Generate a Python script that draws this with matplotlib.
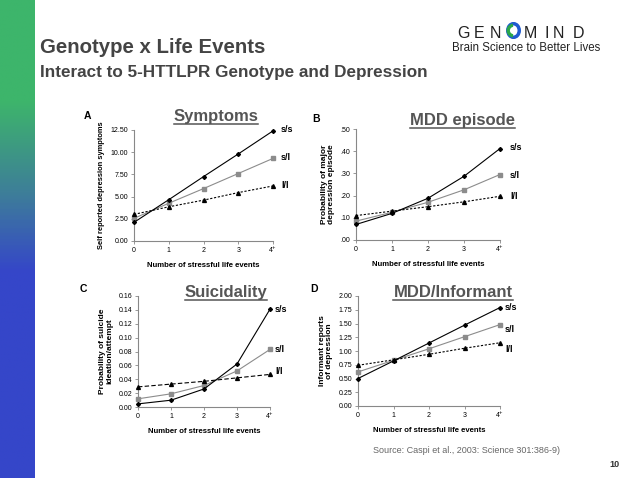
import numpy as np
import matplotlib
matplotlib.use("Agg")
import matplotlib.pyplot as plt
from matplotlib.colors import LinearSegmentedColormap
from matplotlib.patches import Ellipse, Wedge

plt.rcParams['font.family'] = ['Liberation Sans', 'DejaVu Sans']

# ---- data ----
events = [0, 1, 2, 3, 4]
xticklabels = ['0', '1', '2', '3', '4\u207a']

sym_ss = [2.1, 4.65, 7.25, 9.8, 12.4]
sym_sl = [2.55, 4.25, 5.9, 7.6, 9.3]
sym_ll = [3.0, 3.85, 4.6, 5.45, 6.2]

mdd_ss = [0.07, 0.12, 0.188, 0.287, 0.412]
mdd_sl = [0.085, 0.125, 0.17, 0.226, 0.295]
mdd_ll = [0.11, 0.13, 0.15, 0.172, 0.197]

sui_ss = [0.0045, 0.0098, 0.026, 0.062, 0.141]
sui_sl = [0.0118, 0.019, 0.031, 0.052, 0.083]
sui_ll = [0.029, 0.033, 0.037, 0.042, 0.047]

inf_ss = [0.50, 0.82, 1.145, 1.47, 1.79]
inf_sl = [0.62, 0.83, 1.04, 1.26, 1.48]
inf_ll = [0.74, 0.84, 0.94, 1.05, 1.15]

W, H = 638, 478
fig = plt.figure(figsize=(W / 100, H / 100), dpi=100)


def fx(px):
    return px / W


def fy(py):
    return 1 - py / H


# left gradient strip
strip = fig.add_axes([0, 0, fx(35), 1])
cmap = LinearSegmentedColormap.from_list('strip', [(0, '#3DB56B'), (0.21, '#3DB56B'),
                                                   (0.40, '#3E7F98'), (0.57, '#3546C9'),
                                                   (1, '#3546C9')])
strip.imshow(np.linspace(0, 1, 400).reshape(-1, 1), aspect='auto', cmap=cmap,
             extent=[0, 1, 1, 0])
strip.set_axis_off()

# header
fig.text(fx(40), fy(53), 'Genotype x Life Events', fontsize=14.7, fontweight='bold',
         color='#444444', va='baseline')
fig.text(fx(40), fy(77), 'Interact to 5-HTTLPR Genotype and Depression', fontsize=12.3,
         fontweight='bold', color='#444444', va='baseline')

# logo
for lx, ch in [(457, 'G'), (474, 'E'), (490, 'N'), (524, 'M'), (545, 'I'), (553, 'N'), (573, 'D')]:
    fig.text(fx(lx), fy(37.5), ch, fontsize=11.5, color='#222222', va='baseline')
logo = fig.add_axes([fx(505), fy(39), fx(17), 17 / H])
logo.set_xlim(-1, 1)
logo.set_ylim(-1, 1)
logo.add_patch(Ellipse((0, 0), 1.35, 1.6, fc='none', ec='#1f5bd0', lw=2.5))
logo.add_patch(Wedge((0, 0), 0.82, 95, 265, width=0.4, fc='#2aa84a', ec='none'))
logo.set_axis_off()
fig.text(fx(452), fy(51), 'Brain Science to Better Lives', fontsize=8.3, color='#222222',
         va='baseline')


def panel(rect, ss, sl, ll, ymax, ystep, yfmt, ylabel, ll_style, ylsize=6):
    l, r, t, b = rect
    ax = fig.add_axes([fx(l), fy(b), fx(r - l), (b - t) / H])
    ax.plot(events, ss, color='black', lw=0.8, marker='D', ms=2.0, clip_on=False, zorder=4)
    ax.plot(events, sl, color='#8c8c8c', lw=0.8, marker='s', ms=2.3, clip_on=False, zorder=3)
    ax.plot(events, ll, color='black', lw=0.8, ls=ll_style, marker='^', ms=2.8,
            clip_on=False, zorder=3)
    ax.set_xlim(0, 4)
    ax.set_ylim(0, ymax)
    ax.set_xticks(events)
    ax.set_xticklabels(xticklabels)
    yt = np.arange(0, ymax + ystep / 2, ystep)
    ax.set_yticks(yt)
    ax.set_yticklabels([yfmt(v) for v in yt])
    for s in ['top', 'right']:
        ax.spines[s].set_visible(False)
    for s in ['left', 'bottom']:
        ax.spines[s].set_color('#888888')
        ax.spines[s].set_linewidth(0.8)
    ax.tick_params(labelsize=5, length=2, width=0.6, color='#888888', pad=2)
    ax.set_xlabel('Number of stressful life events', fontsize=5.6, fontweight='bold', labelpad=6)
    ax.set_ylabel(ylabel, fontsize=ylsize, fontweight='bold', labelpad=4, linespacing=1.0)
    return ax


def title(x, y, txt):
    t = fig.text(fx(x), fy(y), txt, fontsize=12, fontweight='bold', color='#555555',
                 ha='center', va='baseline')
    fig.canvas.draw()
    bb = t.get_window_extent()
    fig.add_artist(plt.Line2D([bb.x0 / W, bb.x1 / W], [fy(y + 2.5), fy(y + 2.5)],
                              color='#555555', lw=1.1))


def labels(x, ys):
    for yy, txt in zip(ys, ['s/s', 's/l', 'l/l']):
        fig.text(fx(x), fy(yy), txt, fontsize=6.5, fontweight='bold', va='center')


axA = panel((134, 273, 130, 241), sym_ss, sym_sl, sym_ll, 12.5, 2.5,
            lambda v: f'{v:.2f}', 'Self reported depression symptoms', (0, (2, 1.5)), ylsize=5.4)
axB = panel((356, 500, 129, 240), mdd_ss, mdd_sl, mdd_ll, 0.5, 0.1,
            lambda v: f'{v:.2f}'[1:], 'Probability of major\ndepression episode', (0, (2, 1.5)))
axC = panel((138, 270, 296, 407), sui_ss, sui_sl, sui_ll, 0.16, 0.02,
            lambda v: f'{v:.2f}', 'Probability of suicide\nideation/attempt', (0, (4, 2)))
axD = panel((358, 500, 296, 406), inf_ss, inf_sl, inf_ll, 2.0, 0.25,
            lambda v: f'{v:.2f}', 'Informant reports\nof depression', (0, (2, 1.5)))

for x, y, letter in [(84, 119, 'A'), (312, 122, 'B'), (80, 292, 'C'), (310, 292, 'D')]:
    fig.text(fx(x), fy(y), letter, fontsize=7.5, fontweight='bold', va='baseline')

title(216, 121, 'Symptoms')
title(462, 125, 'MDD episode')
title(226, 297, 'Suicidality')
title(453, 297, 'MDD/Informant')

labels(281, [130, 158, 185])
labels(510, [148, 175, 196])
labels(275, [309, 349, 372])
labels(505, [308, 330, 349])

fig.text(fx(373), fy(453), 'Source: Caspi et al., 2003: Science 301:386-9)', fontsize=6.5,
         color='#666666', va='baseline')
fig.text(fx(620), fy(467), '10', fontsize=6.5, fontweight='bold', color='#333333',
         ha='right', va='baseline')

fig.savefig('out.png', dpi=100)
